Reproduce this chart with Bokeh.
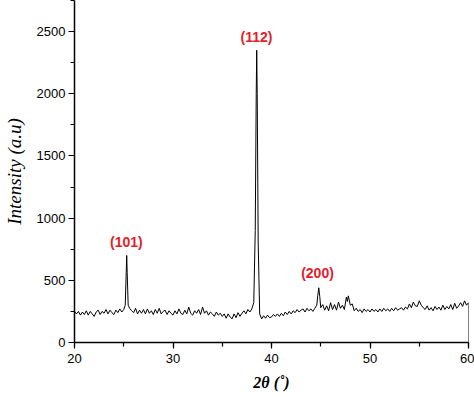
from bokeh.plotting import figure
from bokeh.models import SingleIntervalTicker, ColumnDataSource
from bokeh.embed import file_html
from bokeh.resources import INLINE
from bokeh.core.properties import value

two_theta = [
    20.0, 20.2, 20.4, 20.6, 20.8,
    21.0, 21.2, 21.4, 21.6, 21.8,
    22.0, 22.2, 22.4, 22.6, 22.8,
    23.0, 23.2, 23.4, 23.6, 23.8,
    24.0, 24.2, 24.4, 24.6, 24.8,
    25.0, 25.15, 25.25, 25.3, 25.35, 25.45, 25.6, 25.8,
    26.0, 26.2, 26.4, 26.6, 26.8,
    27.0, 27.2, 27.4, 27.6, 27.8,
    28.0, 28.2, 28.4, 28.6, 28.8,
    29.0, 29.2, 29.4, 29.6, 29.8,
    30.0, 30.2, 30.4, 30.6, 30.8,
    31.0, 31.2, 31.4, 31.6, 31.8,
    32.0, 32.2, 32.4, 32.6, 32.8,
    33.0, 33.2, 33.4, 33.6, 33.8,
    34.0, 34.2, 34.4, 34.6, 34.8,
    35.0, 35.2, 35.4, 35.6, 35.8,
    36.0, 36.2, 36.4, 36.6, 36.8,
    37.0, 37.2, 37.4, 37.6, 37.8,
    38.0, 38.2, 38.35, 38.45, 38.5, 38.55, 38.65, 38.8,
    39.0, 39.2, 39.4, 39.6, 39.8,
    40.0, 40.2, 40.4, 40.6, 40.8,
    41.0, 41.2, 41.4, 41.6, 41.8,
    42.0, 42.2, 42.4, 42.6, 42.8,
    43.0, 43.2, 43.4, 43.6, 43.8,
    44.0, 44.2, 44.4, 44.6, 44.7, 44.8, 44.9,
    45.0, 45.2, 45.4, 45.6, 45.8,
    46.0, 46.2, 46.4, 46.6, 46.8,
    47.0, 47.2, 47.4, 47.6, 47.7, 47.8,
    48.0, 48.2, 48.4, 48.6, 48.8,
    49.0, 49.2, 49.4, 49.6, 49.8,
    50.0, 50.2, 50.4, 50.6, 50.8,
    51.0, 51.2, 51.4, 51.6, 51.8,
    52.0, 52.2, 52.4, 52.6, 52.8,
    53.0, 53.2, 53.4, 53.6, 53.8,
    54.0, 54.2, 54.4, 54.6, 54.8,
    55.0, 55.2, 55.4, 55.6, 55.8,
    56.0, 56.2, 56.4, 56.6, 56.8,
    57.0, 57.2, 57.4, 57.6, 57.8,
    58.0, 58.2, 58.4, 58.6, 58.8,
    59.0, 59.2, 59.4, 59.6, 59.8,
    60.0, 60.0,
]

intensity = [
    250, 230, 250, 220, 245,
    225, 255, 220, 250, 230,
    210, 245, 260, 225, 250,
    235, 265, 230, 260, 240,
    225, 260, 240, 270, 245,
    265, 300, 560, 700, 560, 300, 275, 255,
    240, 275, 230, 260, 235,
    265, 230, 270, 235, 255,
    225, 265, 235, 275, 230,
    250, 260, 225, 255, 235,
    220, 255, 230, 270, 235,
    225, 260, 230, 285, 235,
    220, 255, 235, 265, 225,
    285, 235, 255, 220, 245,
    230, 210, 245, 220, 235,
    210, 230, 195, 230, 205,
    190, 230, 200, 240, 210,
    235, 255, 230, 265, 245,
    270, 320, 900, 2000, 2350, 2000, 800, 230,
    190, 215, 195, 220, 200,
    205, 225, 210, 230, 210,
    235, 215, 245, 225, 250,
    230, 255, 240, 265, 245,
    260, 270, 245, 275, 255,
    270, 250, 275, 300, 380, 440, 370,
    280, 305, 260, 295, 255,
    320, 265, 305, 260, 325,
    275, 300, 265, 365, 330, 375,
    300, 310, 255, 275, 250,
    265, 240, 270, 250, 265,
    245, 270, 250, 265, 245,
    270, 250, 275, 255, 270,
    250, 275, 255, 280, 260,
    270, 280, 260, 285, 270,
    310, 280, 325, 295, 290,
    335, 300, 280, 265, 295,
    260, 280, 255, 290, 265,
    285, 260, 300, 265, 290,
    270, 305, 265, 315, 275,
    295, 320, 290, 335, 300,
    320, 0,
]

peak_labels = ["(101)", "(112)", "(200)"]
peak_label_x = [25.27, 38.48, 44.67]
peak_label_y = [812, 2456, 559]

p = figure(width=474, height=397, x_range=(20, 60), y_range=(0, 2750),
           output_backend="svg", toolbar_location=None,
           min_border_left=73, min_border_right=6, min_border_top=0,
           min_border_bottom=55)
p.outline_line_color = None
p.xgrid.grid_line_color = None
p.ygrid.grid_line_color = None
p.background_fill_color = "white"
p.border_fill_color = "white"

p.line(two_theta, intensity, line_color="black", line_width=1)

src = ColumnDataSource(dict(x=peak_label_x, y=peak_label_y, t=peak_labels))
p.text(x="x", y="y", text="t", source=src, text_align="center",
       text_baseline="middle", text_color="#e3202a",
       text_font=value("Liberation Sans"), text_font_style="bold",
       text_font_size="14px")

p.xaxis.ticker = SingleIntervalTicker(interval=10, num_minor_ticks=2)
p.yaxis.ticker = SingleIntervalTicker(interval=500, num_minor_ticks=2)

for ax in (p.xaxis[0], p.yaxis[0]):
    ax.axis_line_color = "black"
    ax.axis_line_width = 1.5
    ax.major_tick_line_color = "black"
    ax.minor_tick_line_color = "black"
    ax.major_tick_line_width = 1.2
    ax.minor_tick_line_width = 1.2
    ax.major_tick_in = 0
    ax.major_tick_out = 6
    ax.minor_tick_in = 0
    ax.minor_tick_out = 4
    ax.major_label_text_font = "Liberation Sans"
    ax.major_label_text_font_size = "13px"
    ax.major_label_text_color = "black"
    ax.axis_label_text_color = "black"

p.yaxis.major_label_standoff = 3
p.xaxis.major_label_standoff = 5

p.xaxis.axis_label = "2θ (˚)"
p.xaxis.axis_label_text_font = "Liberation Serif"
p.xaxis.axis_label_text_font_style = "bold italic"
p.xaxis.axis_label_text_font_size = "16px"
p.xaxis.axis_label_standoff = 8

p.yaxis.axis_label = "Intensity (a.u)"
p.yaxis.axis_label_text_font = "Liberation Serif"
p.yaxis.axis_label_text_font_style = "italic"
p.yaxis.axis_label_text_font_size = "19px"
p.yaxis.axis_label_standoff = 9

open("out.html", "w").write(file_html(p, INLINE))
